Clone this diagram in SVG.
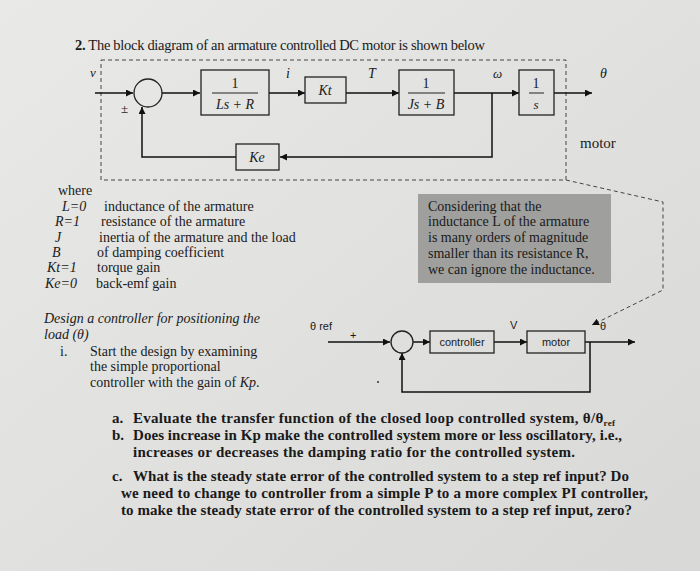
<svg xmlns="http://www.w3.org/2000/svg" width="700" height="571" viewBox="0 0 700 571">
<defs>
<marker id="ah" viewBox="0 0 10 10" refX="10" refY="5" markerWidth="7" markerHeight="7" orient="auto" markerUnits="userSpaceOnUse"><path d="M0,0L10,5L0,10z" fill="#111"/></marker>
<linearGradient id="bg" x1="0" y1="0" x2="1" y2="1"><stop offset="0" stop-color="#e9e9e7"/><stop offset="1" stop-color="#d8d8d6"/></linearGradient>
</defs>
<style>
.s{font-family:"Liberation Serif",serif;fill:#1a1a1a}
.i{font-style:italic}
.b{fill:none;stroke:#222;stroke-width:1.3}
.l{fill:none;stroke:#111;stroke-width:1.5}
.d{fill:none;stroke:#444;stroke-width:1;stroke-dasharray:4 3}
.a{font-family:"Liberation Sans",sans-serif;fill:#1a1a1a;font-size:11px}
</style>
<rect width="700" height="571" fill="url(#bg)"/>
<text class="s" x="75" y="50" font-size="14.5" textLength="410"><tspan font-weight="bold">2.</tspan> The block diagram of an armature controlled DC motor is shown below</text>
<rect class="d" x="101" y="60" width="465" height="120"/>
<g id="connectors">
<path class="l" d="M95,93H133" marker-end="url(#ah)"/>
<path class="l" d="M162,93H200" marker-end="url(#ah)"/>
<path class="l" d="M269,93H305" marker-end="url(#ah)"/>
<path class="l" d="M346,93H399" marker-end="url(#ah)"/>
<path class="l" d="M454,93H519" marker-end="url(#ah)"/>
<path class="l" d="M554,93H592" marker-end="url(#ah)"/>
<path class="l" d="M492,93V157H280" marker-end="url(#ah)"/>
<path class="l" d="M236,157H142V107" marker-end="url(#ah)"/>
<path class="l" d="M328,342H390" marker-end="url(#ah)"/>
<path class="l" d="M413,342H430" marker-end="url(#ah)"/>
<path class="l" d="M494,342H527" marker-end="url(#ah)"/>
<path class="l" d="M585,342H635" marker-end="url(#ah)"/>
<path class="l" d="M590,342V392H402V353" marker-end="url(#ah)"/>
<path class="d" d="M566,180L663,202V290L592,325" marker-end="url(#ah)"/>
</g>
<g id="sum1"><circle class="b" cx="148" cy="93" r="14"/></g>
<g id="b1"><rect class="b" x="201" y="70" width="68" height="45"/><text class="s" x="235" y="88" font-size="14" text-anchor="middle">1</text><path d="M212,93H258" stroke="#222"/><text class="s i" x="235" y="109" font-size="14" text-anchor="middle">Ls + R</text></g>
<g id="kt"><rect class="b" x="305" y="77" width="41" height="26"/><text class="s i" x="325" y="95" font-size="14" text-anchor="middle">Kt</text></g>
<g id="b2"><rect class="b" x="399" y="70" width="55" height="45"/><text class="s" x="426" y="88" font-size="14" text-anchor="middle">1</text><path d="M408,93H445" stroke="#222"/><text class="s i" x="426" y="109" font-size="14" text-anchor="middle">Js + B</text></g>
<g id="b3"><rect class="b" x="519" y="70" width="35" height="45"/><text class="s" x="536" y="88" font-size="14" text-anchor="middle">1</text><path d="M529,93H544" stroke="#222"/><text class="s i" x="536" y="109" font-size="13" text-anchor="middle">s</text></g>
<g id="ke"><rect class="b" x="236" y="144" width="43" height="26"/><text class="s i" x="257" y="162" font-size="14" text-anchor="middle">Ke</text></g>
<text class="s i" x="90" y="77" font-size="13">v</text>
<text class="s" x="121" y="113" font-size="13">±</text>
<text class="s i" x="286" y="78" font-size="14">i</text>
<text class="s i" x="368" y="78" font-size="14">T</text>
<text class="s i" x="493" y="78" font-size="13">ω</text>
<text class="s i" x="600" y="78" font-size="14">θ</text>
<text class="s" x="580" y="148" font-size="15">motor</text>
<g font-size="14">
<text class="s" x="58" y="195">where</text>
<text class="s i" x="62" y="211">L=0</text><text class="s" x="104" y="211">inductance of the armature</text>
<text class="s i" x="55" y="226">R=1</text><text class="s" x="101" y="226">resistance of the armature</text>
<text class="s i" x="55" y="242">J</text><text class="s" x="99" y="242">inertia of the armature and the load</text>
<text class="s i" x="52" y="257">B</text><text class="s" x="97" y="257">of damping coefficient</text>
<text class="s i" x="47" y="272">Kt=1</text><text class="s" x="97" y="272">torque gain</text>
<text class="s i" x="45" y="288">Ke=0</text><text class="s" x="96" y="288">back-emf gain</text>
</g>
<g id="note"><rect x="418" y="194" width="193" height="89" fill="#9f9f9d"/>
<g font-size="14"><text class="s" x="428" y="211">Considering that the</text><text class="s" x="428" y="226">inductance L of the armature</text><text class="s" x="428" y="242">is many orders of magnitude</text><text class="s" x="428" y="258">smaller than its resistance R,</text><text class="s" x="428" y="274">we can ignore the inductance.</text></g></g>
<g font-size="14">
<text class="s i" x="44" y="323">Design a controller for positioning the</text>
<text class="s i" x="44" y="339">load (θ)</text>
<text class="s" x="60" y="356">i.</text>
<text class="s" x="90" y="356">Start the design by examining</text>
<text class="s" x="90" y="371">the simple proportional</text>
<text class="s" x="90" y="387">controller with the gain of <tspan class="i">Kp</tspan>.</text>
</g>
<g id="sum2"><circle class="b" cx="402" cy="342" r="11"/></g>
<g id="ctrl"><rect class="b" x="430" y="331" width="64" height="22"/><text class="a" x="462" y="346" text-anchor="middle">controller</text></g>
<g id="motor"><rect class="b" x="527" y="331" width="58" height="22"/><text class="a" x="556" y="346" text-anchor="middle">motor</text></g>
<text class="a" x="310" y="330" font-size="10">θ  ref</text>
<text class="a" x="350" y="339">+</text>
<text class="a" x="510" y="329" font-size="10">V</text>
<text class="a" x="600" y="330" font-size="10">θ</text>
<circle cx="378" cy="382" r="1" fill="#333"/>
<g font-size="15" font-weight="bold">
<text class="s" x="112" y="423">a.</text><text class="s" x="133" y="423" textLength="482">Evaluate the transfer function of the closed loop controlled system, θ/θ<tspan font-size="9" dy="3">ref</tspan></text>
<text class="s" x="112" y="440">b.</text><text class="s" x="133" y="440" textLength="489">Does increase in Kp make the controlled system more or less oscillatory, i.e.,</text>
<text class="s" x="133" y="457" textLength="442">increases or decreases the damping ratio for the controlled system.</text>
<text class="s" x="112" y="481">c.</text><text class="s" x="133" y="481" textLength="496">What is the steady state error of the controlled system to a step ref input?  Do</text>
<text class="s" x="121" y="498" textLength="527">we need to change to controller from a simple P to a more complex PI controller,</text>
<text class="s" x="121" y="515" textLength="511">to make the steady state error of the controlled system to a step ref input, zero?</text>
</g>
</svg>
